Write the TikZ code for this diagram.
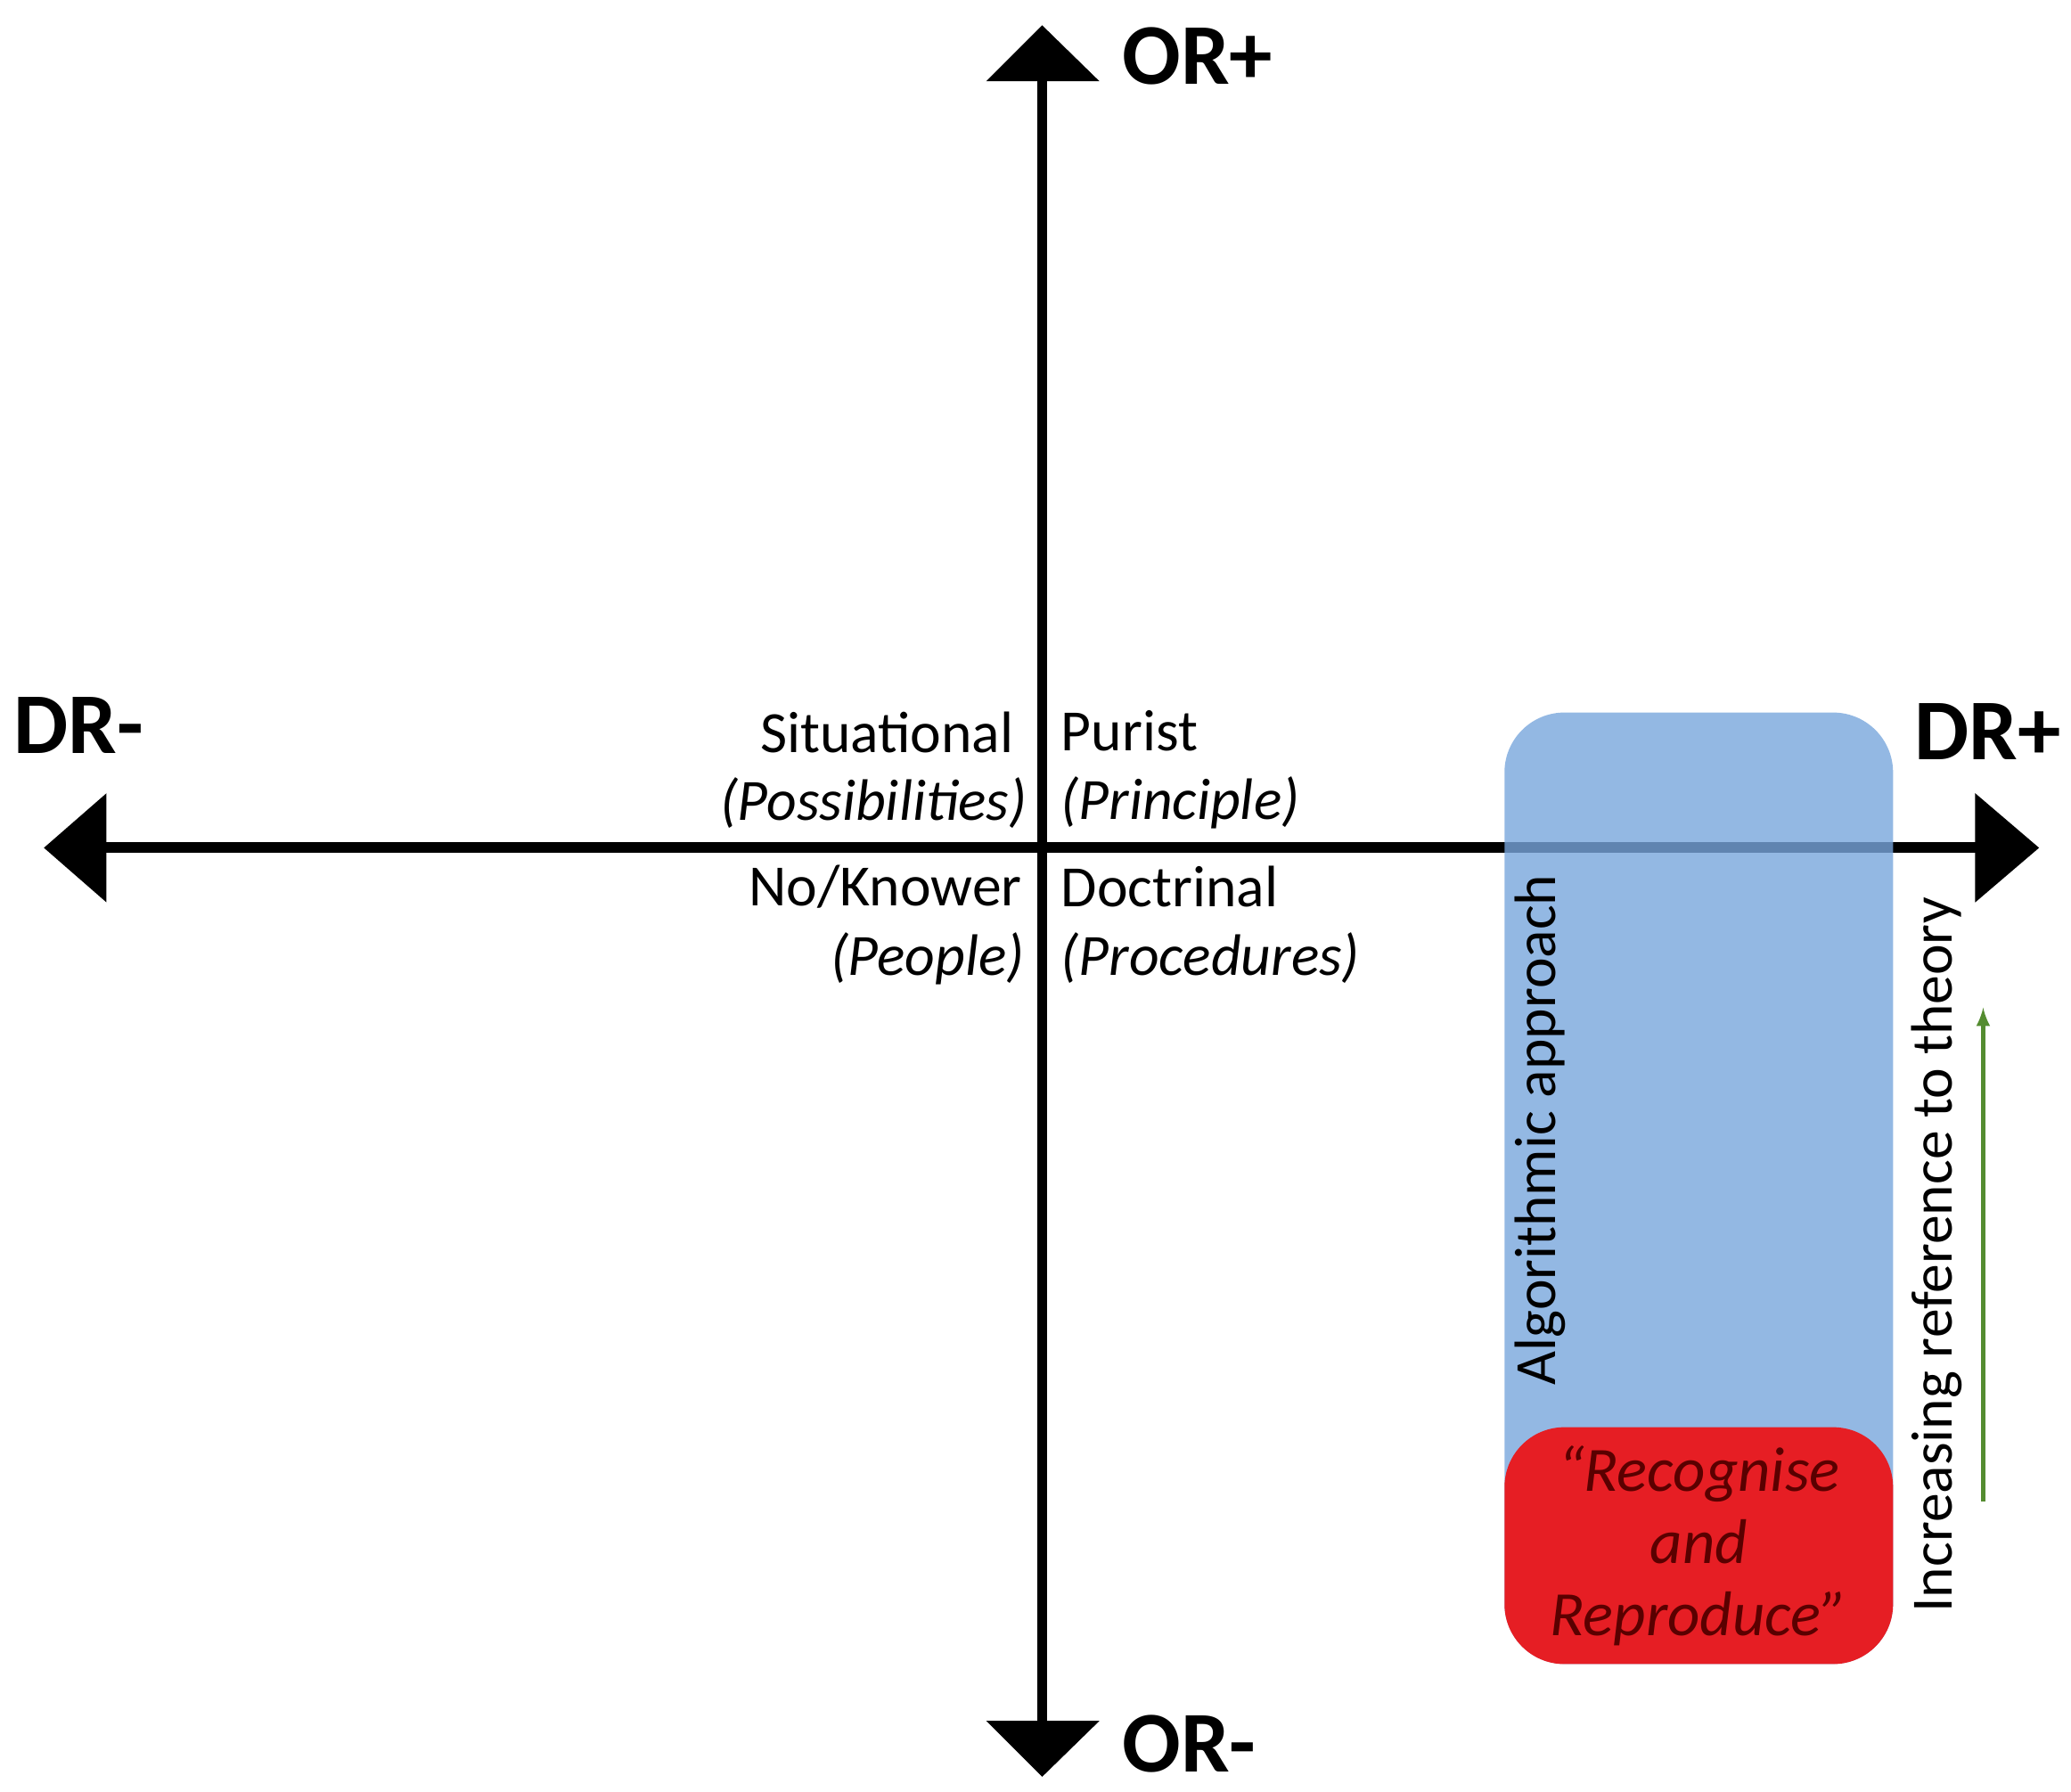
\documentclass[tikz,border=0pt]{standalone}
\usepackage{fontspec}
\setmainfont{Carlito}
\begin{document}
\begin{tikzpicture}[x=0.02cm,y=-0.02cm,
  lbl/.style={font=\fontsize{25}{29}\selectfont, inner sep=0pt},
  big/.style={font=\fontsize{37}{41}\selectfont\bfseries, inner sep=0pt},
  axis/.style={line width=0.16cm},
  head/.style={fill=black}]
\useasboundingbox (0,0) rectangle (1556,1346);
% axes
\coordinate (L) at (70,637); \coordinate (R) at (1495,637);
\coordinate (T) at (783,55); \coordinate (B) at (783,1300);
\draw[axis] (L) -- (R);
\draw[axis] (T) -- (B);
\fill[head] (33,637) -- (80,596) -- (80,678) -- cycle;
\fill[head] (1532,637) -- (1484,596) -- (1484,678) -- cycle;
\fill[head] (783,19) -- (741,61) -- (826,61) -- cycle;
\fill[head] (783,1335) -- (741,1293) -- (826,1293) -- cycle;
% boxes
\node[draw=none, fill={rgb,255:red,120;green,166;blue,220}, fill opacity=0.8, rounded corners=0.9cm, minimum width=5.84cm, minimum height=14.3cm, anchor=north west] (blue) at (1130,535) {};
\node[draw=none, fill={rgb,255:red,230;green,30;blue,36}, rounded corners=0.9cm, minimum width=5.84cm, minimum height=3.56cm, anchor=north west, align=center, font=\fontsize{27}{31}\selectfont\itshape, text={rgb,255:red,90;green,0;blue,0}] (red) at (1130,1072) {``Recognise\\and\\Reproduce''};
% labels
\node[big, anchor=west] (orp) at (843,42) {OR+};
\node[big, anchor=west] (orm) at (843,1310) {OR-};
\node[big, anchor=west] (drm) at (10,545) {DR-};
\node[big, anchor=west] (drp) at (1438,550) {DR+};
\node[lbl, anchor=east] (s1) at (762,550) {Situational};
\node[lbl, anchor=east] (s2) at (772,603) {\itshape(Possibilities)};
\node[lbl, anchor=west] (p1) at (797,549) {Purist};
\node[lbl, anchor=west] (p2) at (797,603) {\itshape(Principle)};
\node[lbl, anchor=east] (n1) at (768,666) {No/Knower};
\node[lbl, anchor=east] (n2) at (770,720) {\itshape(People)};
\node[lbl, anchor=west] (d1) at (797,666) {Doctrinal};
\node[lbl, anchor=west] (d2) at (797,720) {\itshape(Procedures)};
\node[lbl, rotate=90] (alg) at (1157,849) {Algorithmic approach};
\node[lbl, rotate=90] (inc) at (1455,943) {Increasing reference to theory};
% green arrow
\coordinate (g1) at (1490,1128); \coordinate (g2) at (1490,757);
\draw[line width=0.06cm, draw={rgb,255:red,84;green,140;blue,48}, -latex] (g1) -- (g2);
\end{tikzpicture}
\end{document}
